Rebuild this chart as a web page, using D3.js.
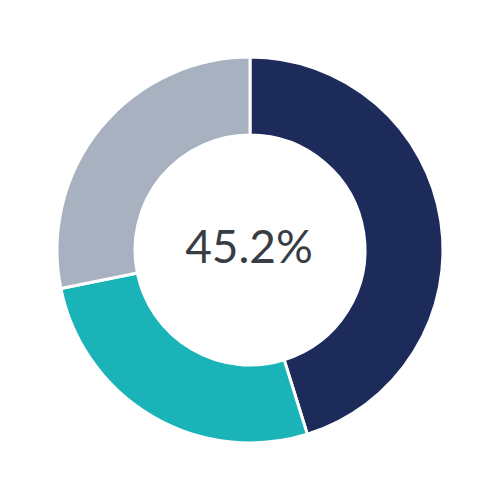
<!DOCTYPE html>
<html lang="en">
<head>
<meta charset="utf-8">
<title>Donut</title>
<script src="https://cdn.jsdelivr.net/npm/d3@7"></script>
<style>
  html, body { margin: 0; padding: 0; background: #fff; }
</style>
</head>
<body>
<script>
// slice data (clockwise from 12 o'clock)
var categories = ["A", "B", "C"];
var values = [45.2, 26.6, 28.2];
var colors = ["#1c2b5a", "#1ab4b8", "#a7b1c0"];
var centerLabel = "45.2%";

var width = 500, height = 500;
var outerR = 193, innerR = 115;

var svg = d3.select("body").append("svg")
    .attr("width", width)
    .attr("height", height);

var g = svg.append("g")
    .attr("transform", "translate(" + width / 2 + "," + height / 2 + ")");

var pie = d3.pie().sort(null).value(function(d) { return d; });
var arc = d3.arc().innerRadius(innerR).outerRadius(outerR);

g.selectAll("path")
    .data(pie(values))
    .enter()
    .append("path")
    .attr("d", arc)
    .attr("fill", function(d, i) { return colors[i]; })
    .attr("stroke", "#fff")
    .attr("stroke-width", 3);

g.append("text")
    .attr("text-anchor", "middle")
    .attr("x", -1)
    .attr("y", 13)
    .attr("font-family", "Lato")
    .attr("font-size", 46)
    .attr("fill", "#383d45")
    .text(centerLabel);
</script>
</body>
</html>
